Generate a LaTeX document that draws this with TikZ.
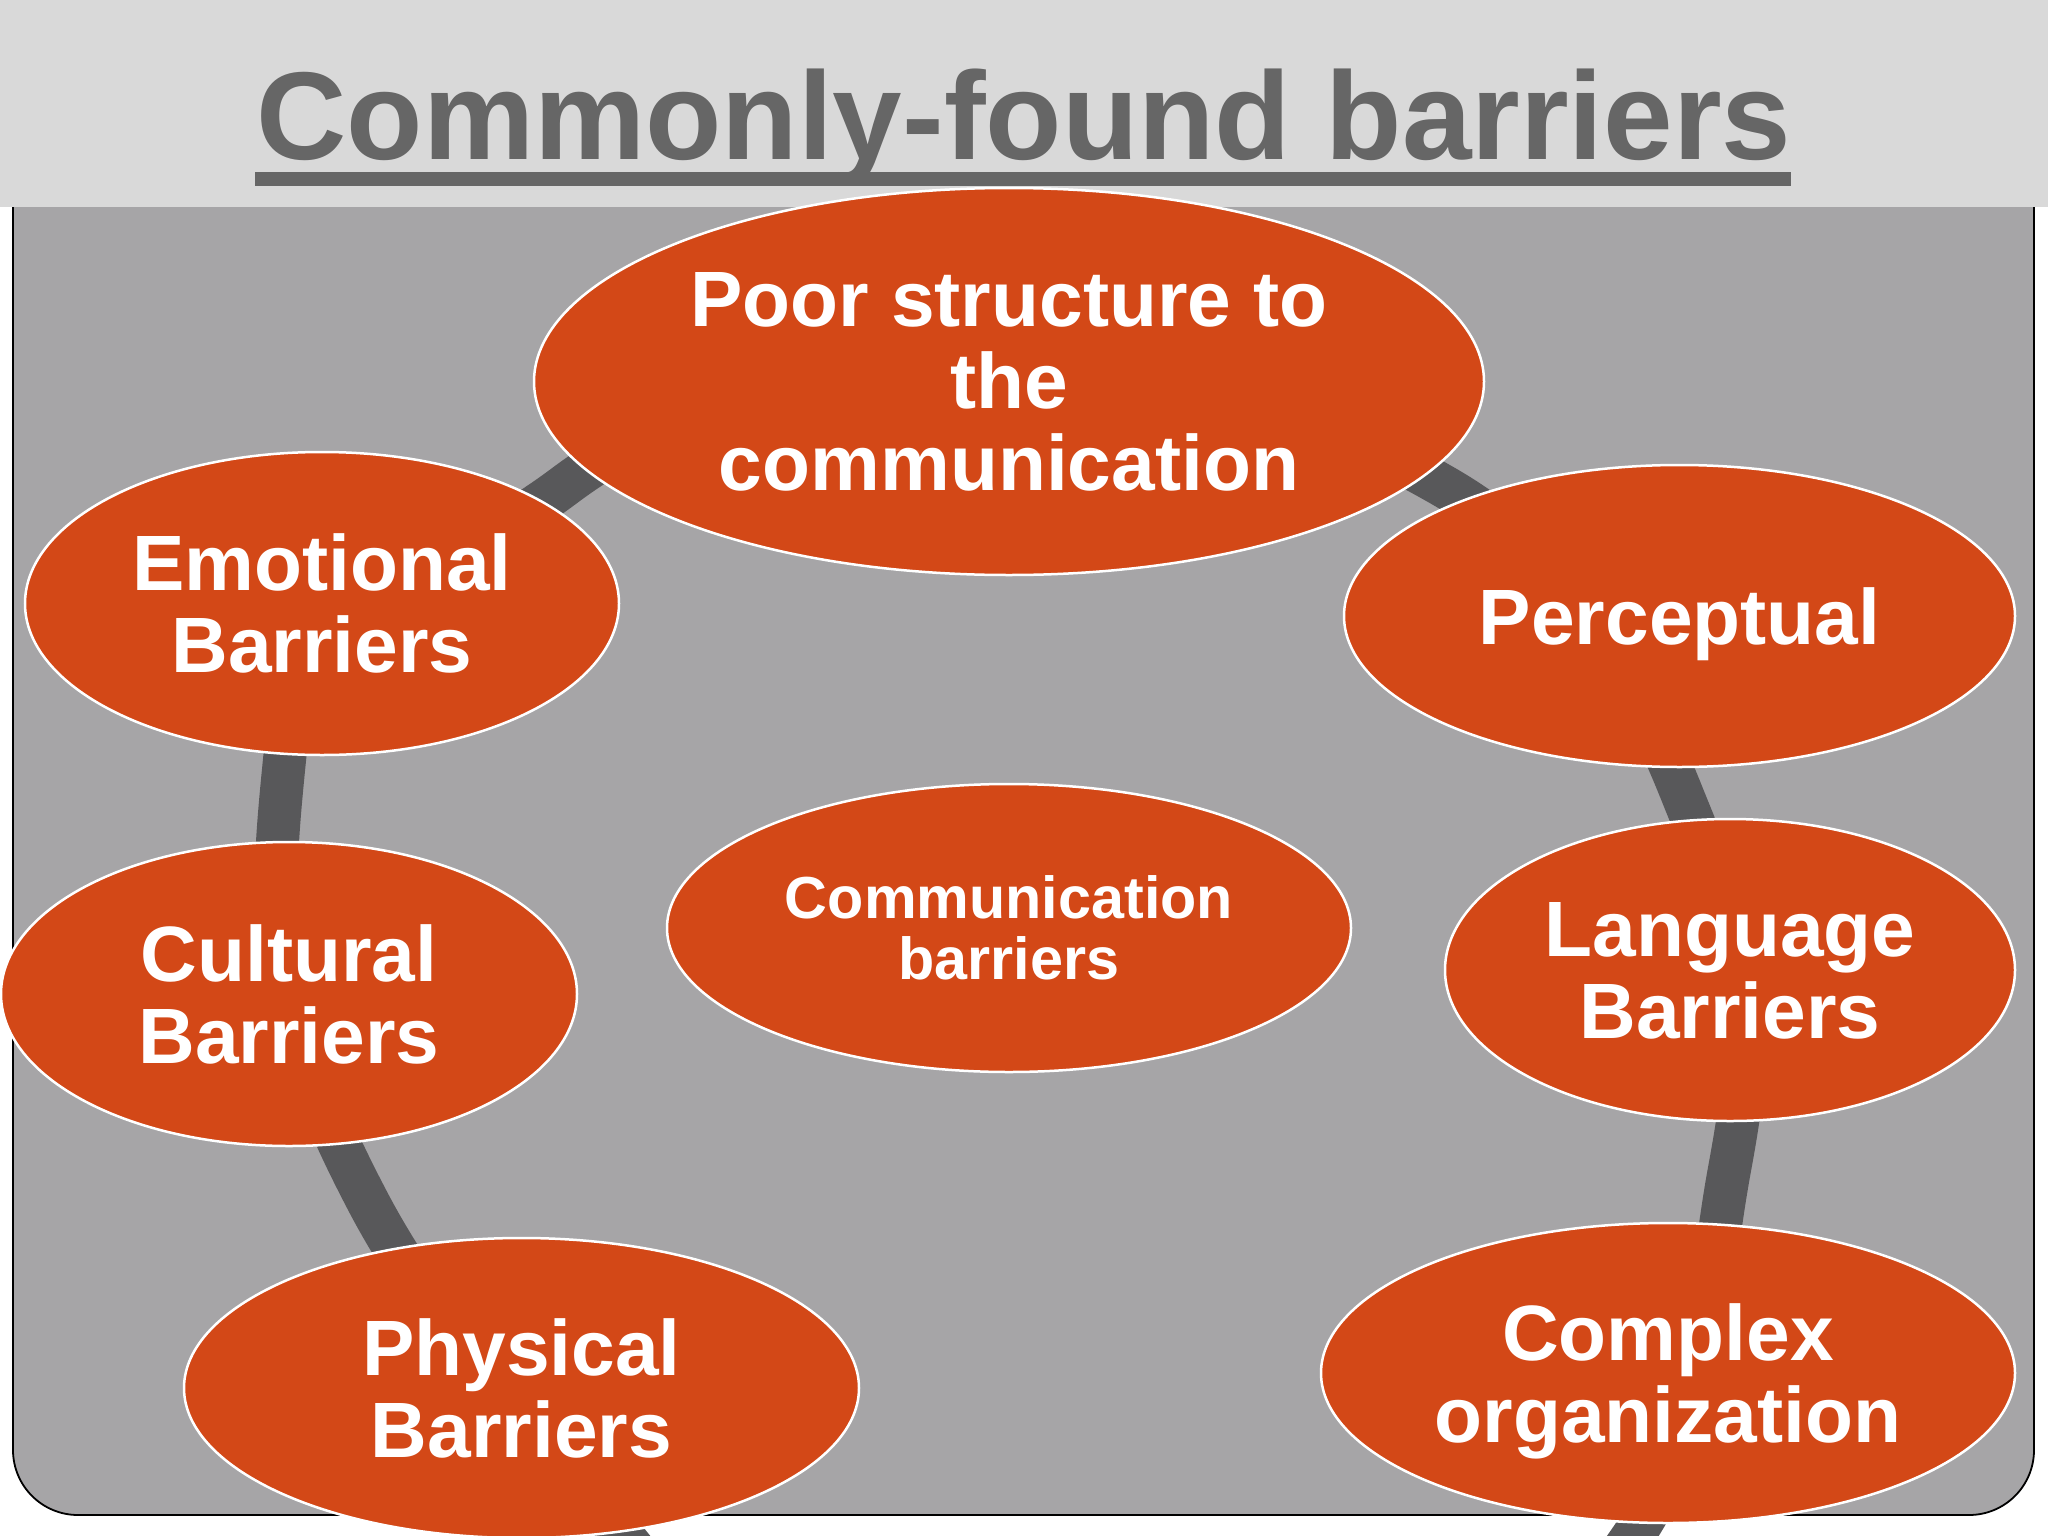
\documentclass[tikz,border=0pt]{standalone}
\usepackage{fontspec}
\setmainfont{Liberation Sans}
\usetikzlibrary{shapes.geometric}
\definecolor{hdr}{HTML}{D9D9D9}
\definecolor{slidegray}{HTML}{A6A5A7}
\definecolor{ringgray}{HTML}{58585A}
\definecolor{ell}{HTML}{D34817}
\definecolor{ttl}{HTML}{666666}
\begin{document}
\begin{tikzpicture}[x=1pt,y=-1pt,
  bubble/.style={ellipse, fill=ell, draw=white, line width=2.5pt, inner sep=0pt,
    text=white, font=\bfseries\fontsize{78.5}{82}\selectfont, align=center, text depth=0pt},
  smallbubble/.style={bubble, font=\bfseries\fontsize{59.3}{61}\selectfont},
  ringline/.style={draw=ringgray, line width=43pt},
]
\useasboundingbox (0,0) rectangle (2048,1536);
\fill[white] (0,0) rectangle (2048,1536);
% slide body
\filldraw[fill=slidegray, draw=black, line width=1.8pt, rounded corners=65pt]
  (13,200) -- (13,1515) -- (2034,1515) -- (2034,200);
% header band
\fill[hdr] (0,0) rectangle (2048,207);
% ring points
\coordinate (t1) at (1005,368);
\coordinate (t2) at (1445,487);
\coordinate (t3) at (1682,794);
\coordinate (t4) at (1745,1030);
\coordinate (t5) at (1729,1172);
\coordinate (t6) at (1637,1530);
\coordinate (t7) at (1000,1790);
\coordinate (t8) at (630,1545);
\coordinate (t9) at (365,1196);
\coordinate (t10) at (276,890);
\coordinate (t11) at (285,755);
\coordinate (t12) at (564,486);
\draw[ringline] (t1)
  .. controls (1169,368) and (1303,405) .. (t2)
  .. controls (1566,557) and (1630,664) .. (t3)
  .. controls (1715,876) and (1745,942) .. (t4)
  .. controls (1745,1080) and (1738,1123) .. (t5)
  .. controls (1706,1299) and (1708,1421) .. (t6)
  .. controls (1489,1755) and (1270,1790) .. (t7)
  .. controls (835,1790) and (734,1674) .. (t8)
  .. controls (535,1428) and (434,1330) .. (t9)
  .. controls (314,1098) and (276,1000) .. (t10)
  .. controls (276,845) and (280.5,800) .. (t11)
  .. controls (300,606) and (444,576) .. (t12)
  .. controls (695,388) and (841,368) .. (t1) -- cycle;
% bubbles
\node[bubble, minimum width=950pt, minimum height=387pt] (poor) at (1009,381.5) {Poor structure to\\the\\communication};
\node[bubble, minimum width=594pt, minimum height=303pt] (emo) at (322,603.5) {Emotional\\Barriers};
\node[bubble, minimum width=671pt, minimum height=302pt] (perc) at (1679.5,616) {Perceptual};
\node[bubble, minimum width=570pt, minimum height=302pt] (lang) at (1730,970) {Language\\Barriers};
\node[bubble, minimum width=694pt, minimum height=300pt] (comp) at (1668,1373) {Complex\\organization};
\node[bubble, minimum width=675pt, minimum height=300pt] (phys) at (521.5,1388) {Physical\\Barriers};
\node[bubble, minimum width=576pt, minimum height=304pt] (cult) at (289,994) {Cultural\\Barriers};
\node[smallbubble, minimum width=684pt, minimum height=288pt] (center) at (1009,928) {Communication\\barriers};
% title
\node[anchor=base, inner sep=0pt, text=ttl, font=\bfseries\fontsize{125}{130}\selectfont] (title) at (1024,160) {Commonly-found barriers};
\fill[ttl] (255,172) rectangle (1791,186);
\end{tikzpicture}
\end{document}
